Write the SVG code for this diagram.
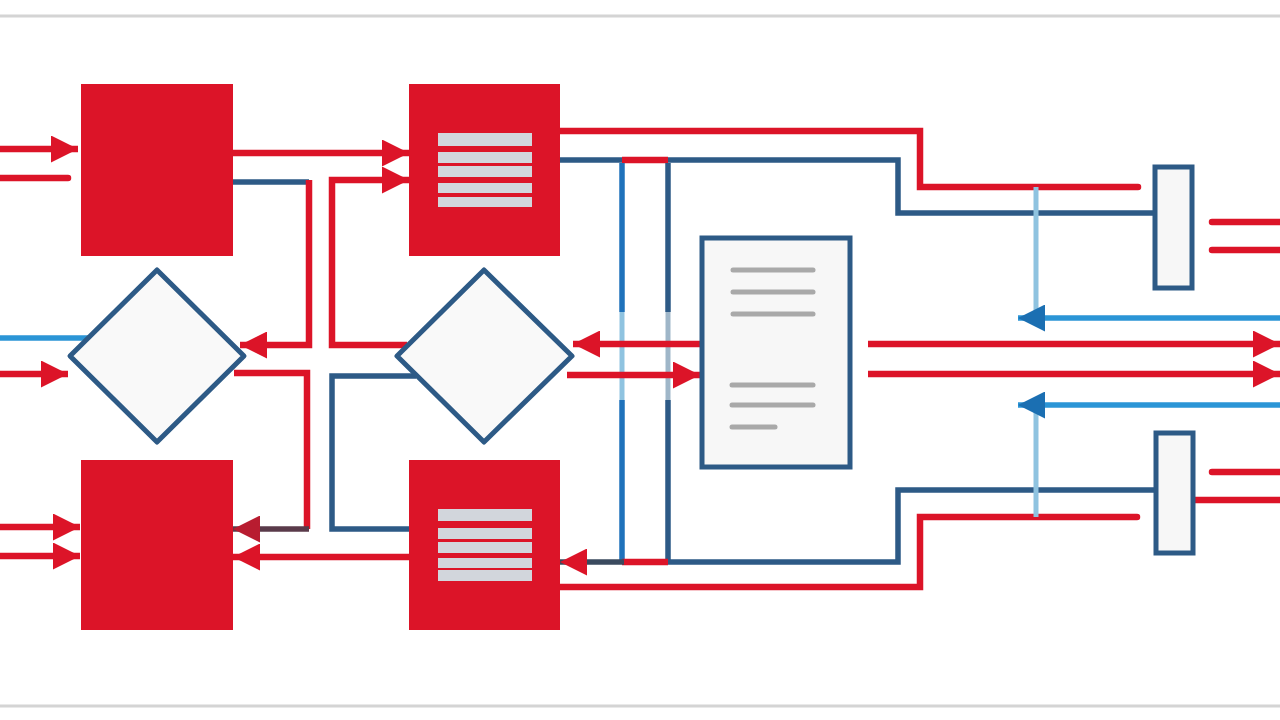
<svg xmlns="http://www.w3.org/2000/svg" width="1280" height="720" viewBox="0 0 1280 720">
<style>
.red{fill:none;stroke:#dc1428;stroke-width:6.5}
.dk{fill:none;stroke:#2d5a86;stroke-width:5.5}
.lb{fill:none;stroke:#2b95d6;stroke-width:5.5}
.mb{fill:none;stroke:#1f72bb;stroke-width:5.5}
.pb{fill:none;stroke:#8fc3e0;stroke-width:5}
.blk{fill:#dc1428}
.stripe{fill:#d2d6dc}
.dia{fill:#f9f9f9;stroke:#2d5a86;stroke-width:5;stroke-linejoin:round}
.doc{fill:#f7f7f7;stroke:#2d5a86;stroke-width:5}
.gl{stroke:#a9a9a9;stroke-width:5;stroke-linecap:round}
.frame{stroke:#d4d4d4;stroke-width:3}
</style>
<defs>
<marker id="ar" viewBox="0 0 10 10" refX="10" refY="5" markerWidth="32" markerHeight="27" markerUnits="userSpaceOnUse" orient="auto"><path d="M0,0 L10,5 L0,10 Z" fill="#dc1428"/></marker>
<marker id="ad" viewBox="0 0 10 10" refX="10" refY="5" markerWidth="32" markerHeight="27" markerUnits="userSpaceOnUse" orient="auto"><path d="M0,0 L10,5 L0,10 Z" fill="#b81c30"/></marker>
<marker id="ab" viewBox="0 0 10 10" refX="10" refY="5" markerWidth="30" markerHeight="27" markerUnits="userSpaceOnUse" orient="auto"><path d="M0,0 L10,5 L0,10 Z" fill="#1b6fb2"/></marker>
</defs>
<rect width="1280" height="720" fill="#ffffff"/>
<line class="frame" x1="0" y1="16" x2="1280" y2="16"/>
<line class="frame" x1="0" y1="706" x2="1280" y2="706"/>

<g id="connectors">
<path class="red" d="M0,149 H78" marker-end="url(#ar)"/>
<path class="red" d="M0,178 H68" stroke-linecap="round"/>
<path class="red" d="M233,153 H409" marker-end="url(#ar)"/>
<path class="dk" d="M233,182 H309"/>
<path class="red" d="M309,180 V345 H240" marker-end="url(#ar)"/>
<path class="red" d="M407,345 H332 V180 H409" marker-end="url(#ar)"/>
<path class="lb" d="M0,338 H88"/>
<path class="red" d="M0,374 H68" marker-end="url(#ar)"/>
<path class="red" d="M234,373 H307 V529"/>
<path d="M309,529 H233" fill="none" stroke="#5a3a4a" stroke-width="5.5" marker-end="url(#ad)"/>
<path class="dk" d="M416,376 H332 V529 H409"/>
<path class="red" d="M409,557 H233" marker-end="url(#ar)"/>
<path class="red" d="M0,527 H80" marker-end="url(#ar)"/>
<path class="red" d="M0,556 H80" marker-end="url(#ar)"/>

<path class="red" d="M560,131 H920 V187 H1138" stroke-linecap="round"/>
<path class="dk" d="M560,160 H898 V213 H1154"/>
<path class="red" d="M622,160 H668"/>
<path class="mb" d="M622,163 V312"/>
<path class="pb" d="M622,312 V400"/>
<path class="mb" d="M622,400 V562"/>
<path class="dk" d="M668,163 V312"/>
<path d="M668,312 V400" fill="none" stroke="#9fb6c8" stroke-width="5"/>
<path class="dk" d="M668,400 V562 H898 V490 H1154"/>
<path class="red" d="M668,562 H622"/>
<path d="M624,562 H560" fill="none" stroke="#3a4a5e" stroke-width="5.5" marker-end="url(#ar)"/>
<path class="red" d="M560,587 H920 V517 H1137" stroke-linecap="round"/>

<path class="red" d="M702,344 H573" marker-end="url(#ar)"/>
<path class="red" d="M567,375 H700" marker-end="url(#ar)"/>
<path class="red" d="M868,344 H1280" marker-end="url(#ar)"/>
<path class="red" d="M868,374 H1280" marker-end="url(#ar)"/>
<path class="pb" d="M1036,187 V318"/>
<path class="pb" d="M1036,405 V517"/>
<path class="lb" d="M1280,318 H1018" marker-end="url(#ab)"/>
<path class="lb" d="M1280,405 H1018" marker-end="url(#ab)"/>
<path class="red" d="M1212,222 H1280 M1212,250 H1280 M1212,472 H1280 M1193,500 H1280" stroke-linecap="round"/>
</g>

<g id="boxA"><rect class="blk" x="81" y="84" width="152" height="172"/></g>
<g id="boxB">
<rect class="blk" x="409" y="84" width="151" height="172"/>
<rect class="stripe" x="438" y="133" width="94" height="13"/>
<rect class="stripe" x="438" y="152" width="94" height="11"/>
<rect class="stripe" x="438" y="166" width="94" height="11"/>
<rect class="stripe" x="438" y="183" width="94" height="10"/>
<rect class="stripe" x="438" y="197" width="94" height="10"/>
</g>
<g id="boxC"><rect class="blk" x="81" y="460" width="152" height="170"/></g>
<g id="boxD">
<rect class="blk" x="409" y="460" width="151" height="170"/>
<rect class="stripe" x="438" y="509" width="94" height="12"/>
<rect class="stripe" x="438" y="528" width="94" height="11"/>
<rect class="stripe" x="438" y="542" width="94" height="11"/>
<rect class="stripe" x="438" y="558" width="94" height="10"/>
<rect class="stripe" x="438" y="570" width="94" height="11"/>
</g>
<g id="decision1"><path class="dia" d="M157,270 L244,356 L157,442 L70,356 Z"/></g>
<g id="decision2"><path class="dia" d="M484,270 L572,356 L484,442 L397,356 Z"/></g>
<g id="document">
<rect class="doc" x="702" y="238" width="148" height="229"/>
<line class="gl" x1="733" y1="270" x2="813" y2="270"/>
<line class="gl" x1="733" y1="292" x2="813" y2="292"/>
<line class="gl" x1="733" y1="314" x2="813" y2="314"/>
<line class="gl" x1="732" y1="385" x2="813" y2="385"/>
<line class="gl" x1="732" y1="405" x2="813" y2="405"/>
<line class="gl" x1="732" y1="427" x2="775" y2="427"/>
</g>
<g id="portTop"><rect x="1155" y="167" width="37" height="121" fill="#f7f7f7" stroke="#2d5a86" stroke-width="5"/></g>
<g id="portBottom"><rect x="1156" y="433" width="37" height="120" fill="#f7f7f7" stroke="#2d5a86" stroke-width="5"/></g>
</svg>
